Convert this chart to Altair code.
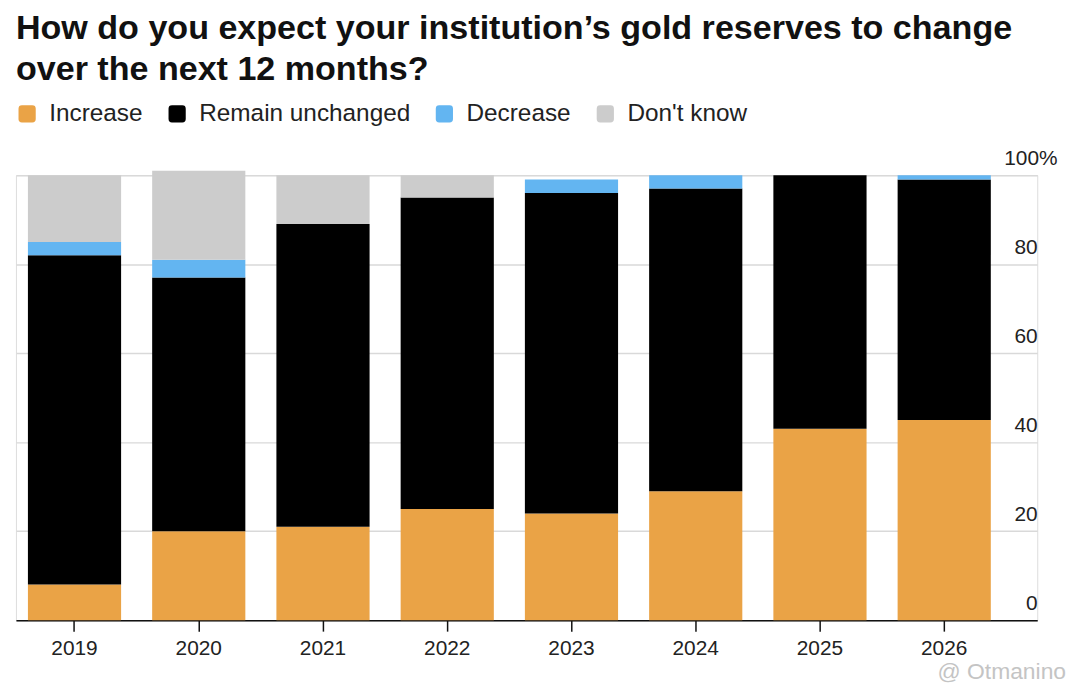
import altair as alt
import pandas as pd

years = ["2019", "2020", "2021", "2022", "2023", "2024", "2025", "2026"]
increase = [8, 20, 21, 25, 24, 29, 43, 45]
remain = [74, 57, 68, 70, 72, 68, 57, 54]
decrease = [3, 4, 0, 0, 3, 3, 0, 1]
dont_know = [15, 20, 11, 5, 0, 0, 0, 0]

categories = ["Increase", "Remain unchanged", "Decrease", "Don't know"]
colors = ["#eaa346", "#000000", "#63b5f1", "#cccccc"]
y_ticks = [0, 20, 40, 60, 80, 100]

rows = []
for i, yr in enumerate(years):
    for k, (cat, vals) in enumerate(zip(categories, [increase, remain, decrease, dont_know])):
        rows.append({"year": yr, "category": cat, "value": vals[i], "order": k})
df = pd.DataFrame(rows)

FONT = "Liberation Sans"
W, H = 1028, 448

rounded = "M-0.6,-1 L0.6,-1 Q1,-1 1,-0.6 L1,0.6 Q1,1 0.6,1 L-0.6,1 Q-1,1 -1,0.6 L-1,-0.6 Q-1,-1 -0.6,-1 Z"

bars = alt.Chart(df).mark_bar().encode(
    x=alt.X("year:N", sort=years,
            scale=alt.Scale(paddingInner=0.25, paddingOuter=0.235, align=0.205),
            axis=alt.Axis(title=None, labelAngle=0, labelFont=FONT, labelFontSize=21,
                          labelColor="#222222", domainColor="#111111", domainWidth=1.5,
                          tickColor="#111111", tickWidth=1.5, tickSize=11, labelPadding=7,
                          grid=False)),
    y=alt.Y("value:Q", stack="zero",
            scale=alt.Scale(domain=[0, 100], nice=False),
            axis=alt.Axis(title=None, orient="right", values=y_ticks,
                          labelExpr="datum.value == 100 ? '100%' : datum.label",
                          labelFont=FONT, labelFontSize=21, labelColor="#222222",
                          labelAlign="right", labelBaseline="alphabetic", labelOffset=-11,
                          labelPadding={"condition": {"test": "datum.value == 100", "value": 20}, "value": 0},
                          domain=False, ticks=False, tickSize=0,
                          grid=True, gridColor="#d9d9d9", gridWidth=1.5)),
    color=alt.Color("category:N", sort=categories,
                    scale=alt.Scale(domain=categories, range=colors),
                    legend=alt.Legend(title=None, orient="none", direction="horizontal",
                                      legendX=-1, legendY=-74, symbolType=rounded,
                                      symbolSize=300, symbolStrokeWidth=0,
                                      labelFont=FONT, labelFontSize=24.5, labelColor="#222222",
                                      labelLimit=0, labelOffset=10, columnPadding=22,
                                      padding=0)),
    order=alt.Order("order:Q"),
)

watermark = alt.Chart(pd.DataFrame({"t": ["@ Otmanino"]})).mark_text(
    font=FONT, fontSize=23, color="#c4c4c4", align="right", baseline="middle"
).encode(text="t:N", x=alt.value(1057), y=alt.value(500))

chart = alt.layer(bars, watermark).properties(
    width=W, height=H,
    padding={"left": 7, "top": 1, "right": 5, "bottom": 2},
    title=alt.TitleParams(
        text=["How do you expect your institution\u2019s gold reserves to change",
              "over the next 12 months?"],
        font=FONT, fontSize=34.3, fontWeight="bold", color="#111111",
        anchor="start", frame="group", lineHeight=42, offset=14),
).configure_view(stroke=None).configure(background="white")

chart.save("out.html", embed_options={"renderer": "svg", "actions": False})
